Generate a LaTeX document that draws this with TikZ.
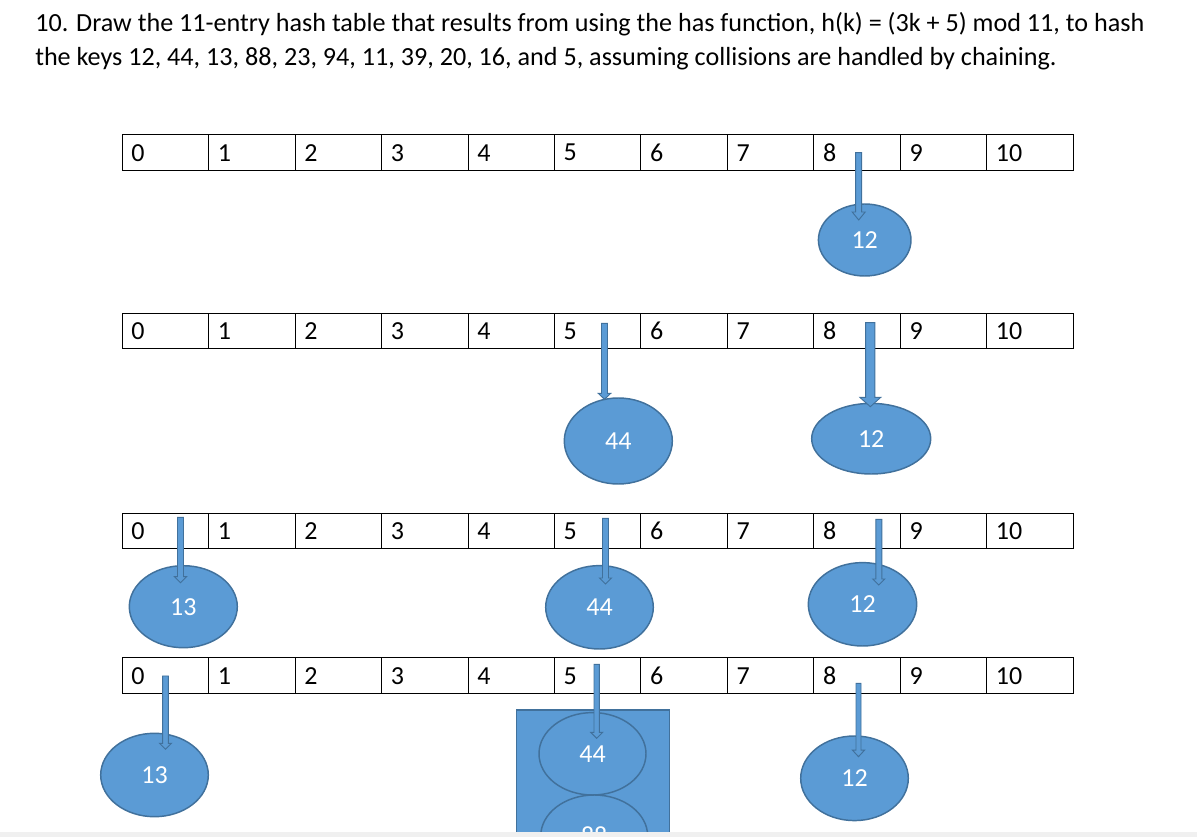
\documentclass[tikz,border=0pt]{standalone}
\usepackage{fontspec}
\setmainfont{Carlito}
\usepackage{tikz}
\usetikzlibrary{shapes.geometric}
\usetikzlibrary{calc}
\usepackage{xcolor}

\definecolor{keyblue}{RGB}{91,155,213}
\definecolor{keyline}{RGB}{65,113,156}
\definecolor{stripgray}{RGB}{240,240,240}

\tikzset{
    slot/.style={draw=black, line width=0.8pt, anchor=north west,
        minimum width=64.84pt, text width=51pt, inner xsep=6.5pt,
        align=left, font=\fontsize{19.5}{23}\selectfont},
    keynode/.style={ellipse, draw=keyline, fill=keyblue, line width=1.1pt,
        text=white, inner sep=0pt, font=\fontsize{19.5}{23}\selectfont},
    chainarr/.style={draw=keyline, fill=keyblue, line width=0.7pt},
}

% block arrow: from, tip, shaft half width, head half width, head length
\newcommand{\chainarrow}[5]{%
    \draw[chainarr] ($(#1)+(-#3,0)$) -- ($(#1)+(#3,0)$) -- ($(#2)+(#3,-#5)$)
        -- ($(#2)+(#4,-#5)$) -- (#2) -- ($(#2)+(-#4,-#5)$)
        -- ($(#2)+(-#3,-#5)$) -- cycle;
}

\begin{document}
\begin{tikzpicture}[x=0.75pt, y=-0.75pt]
    \useasboundingbox (0,0) rectangle (1197,837);

    \node[anchor=base west, inner sep=0pt, font=\fontsize{19.6}{23}\selectfont] (title1) at (35,31.7)
        {10. Draw the 11-entry hash table that results from using the has function, h(k) = (3k + 5) mod 11, to hash};
    \node[anchor=base west, inner sep=0pt, font=\fontsize{19.6}{23}\selectfont] (title2) at (35,66)
        {the keys 12, 44, 13, 88, 23, 94, 11, 39, 20, 16, and 5, assuming collisions are handled by chaining.};

    % the four tables
    \foreach \r/\y/\h in {a/134.3/35.7, b/312.7/35.7, c/512.7/35.7, d/657.3/36} {
        \foreach \i in {0,...,10} {
            \node[slot, minimum height=\h*0.75pt] (\r\i) at ({121.7+86.45*\i}, \y) {\i};
        }
    }

    % stack under slot 5
    \draw[keynode] (516.7,710) rectangle (669.3,845);

    % chained keys
    \node[keynode, minimum width=92.6*0.75pt, minimum height=72*0.75pt]  (k12a) at (864.7,240)   {12};
    \node[keynode, minimum width=108*0.75pt,  minimum height=86*0.75pt]  (k44b) at (618.3,441)   {44};
    \node[keynode, minimum width=119*0.75pt,  minimum height=70.6*0.75pt] (k12b) at (871.2,438.7) {12};
    \node[keynode, minimum width=108*0.75pt,  minimum height=82*0.75pt]  (k13c) at (183.3,606.7) {13};
    \node[keynode, minimum width=107.6*0.75pt, minimum height=83.4*0.75pt] (k44c) at (599.5,607.3) {44};
    \node[keynode, minimum width=108.4*0.75pt, minimum height=83.4*0.75pt] (k12c) at (862.5,604.3) {12};
    \node[keynode, minimum width=107.6*0.75pt, minimum height=83.4*0.75pt] (k13d) at (154.5,775)   {13};
    \node[keynode, minimum width=107*0.75pt,  minimum height=82.4*0.75pt] (k44d) at (592.5,753.8) {44};
    \node[keynode, minimum width=107*0.75pt,  minimum height=82.4*0.75pt] (k88d) at (594.2,836.2) {88};
    \node[keynode, minimum width=107.6*0.75pt, minimum height=84.6*0.75pt] (k12d) at (854.5,778.3) {12};

    % arrow ends
    \coordinate (pa8) at (858.7,152.7);  \coordinate (ta8) at (858.7,220);
    \coordinate (pb5) at (604.5,323.3);  \coordinate (tb5) at (604.5,399.3);
    \coordinate (pb8) at (870.3,322.7);  \coordinate (tb8) at (870.3,406.7);
    \coordinate (pc0) at (180.5,517.3);  \coordinate (tc0) at (180.5,582.7);
    \coordinate (pc5) at (605.5,518.3);  \coordinate (tc5) at (605.5,584);
    \coordinate (pc8) at (878.8,519.3);  \coordinate (tc8) at (878.8,585);
    \coordinate (pd0) at (165.5,676);    \coordinate (td0) at (165.5,749.3);
    \coordinate (pd5) at (596.7,664.3);  \coordinate (td5) at (596.7,738.3);
    \coordinate (pd8) at (858.5,683.3);  \coordinate (td8) at (858.5,756.7);

    \chainarrow{pa8}{ta8}{3}{6.5}{8}
    \chainarrow{pb5}{tb5}{3}{6.3}{6}
    \chainarrow{pb8}{tb8}{4.6}{10.5}{9.4}
    \chainarrow{pc0}{tc0}{3}{6}{6}
    \chainarrow{pc5}{tc5}{3}{6}{6}
    \chainarrow{pc8}{tc8}{3}{6}{6}
    \chainarrow{pd0}{td0}{2.8}{6}{6}
    \chainarrow{pd5}{td5}{2.7}{6}{6}
    \chainarrow{pd8}{td8}{2.5}{6}{6.5}

    \fill[stripgray] (0,831.7) rectangle (1197,837);
\end{tikzpicture}
\end{document}
